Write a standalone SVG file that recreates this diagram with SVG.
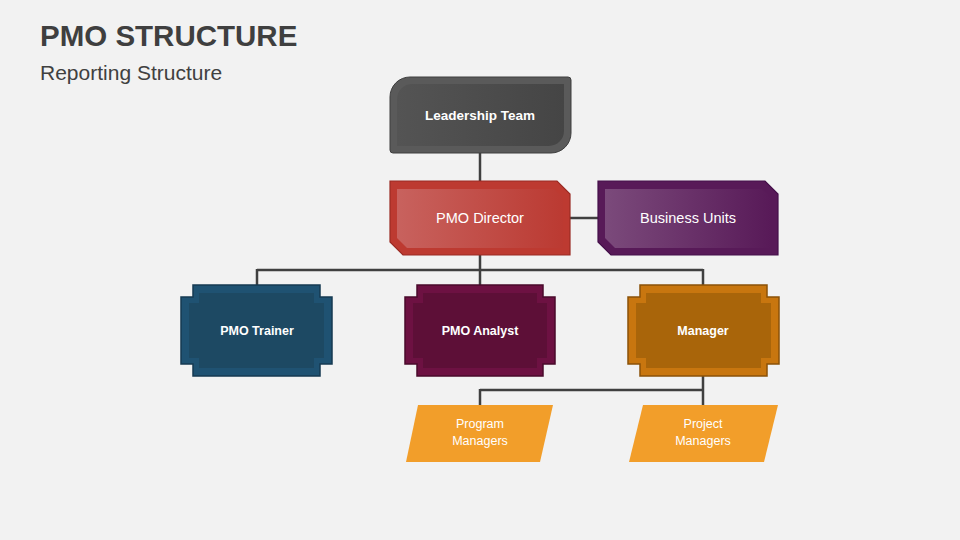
<svg xmlns="http://www.w3.org/2000/svg" width="960" height="540" viewBox="0 0 960 540">
  <defs>
    <linearGradient id="gLead" x1="0" y1="0" x2="1" y2="0">
      <stop offset="0" stop-color="#545454"/>
      <stop offset="1" stop-color="#454545"/>
    </linearGradient>
    <linearGradient id="gDir" x1="0" y1="0" x2="1" y2="0">
      <stop offset="0" stop-color="#c8625e"/>
      <stop offset="1" stop-color="#bb3a32"/>
    </linearGradient>
    <linearGradient id="gBU" x1="0" y1="0" x2="1" y2="0">
      <stop offset="0" stop-color="#7b4a7b"/>
      <stop offset="1" stop-color="#581a58"/>
    </linearGradient>
    <style>
      .conn { stroke:#404040; stroke-width:2.5; fill:none; }
      .lbl { font-family:"Liberation Sans", Arial, sans-serif; fill:#ffffff; text-anchor:middle; }
      .b { font-weight:bold; }
    </style>
  </defs>
  <rect x="0" y="0" width="960" height="540" fill="#f2f2f2"/>

  <g id="title">
    <text x="40" y="46" font-family="'Liberation Sans', Arial, sans-serif" font-weight="bold" font-size="29.5" fill="#3f3f3f">PMO STRUCTURE</text>
    <text x="40" y="80" font-family="'Liberation Sans', Arial, sans-serif" font-size="21" fill="#404040">Reporting Structure</text>
  </g>

  <g id="connectors">
    <path class="conn" d="M480,153 V181"/>
    <path class="conn" d="M570,218 H598"/>
    <path class="conn" d="M480,255 V270 M257,270 H703 M257,269 V285 M480,270 V285 M703,269 V285"/>
    <path class="conn" d="M703,376 V390 M480,390 H703 M480,389 V405 M703,390 V405"/>
  </g>

  <g id="leadership">
    <path d="M410,77 H568 Q571,77 571,80 V133 A20,20 0 0 1 551,153 H393 Q390,153 390,150 V97 A20,20 0 0 1 410,77 Z" fill="#5a5a5a" stroke="#3e3e3e" stroke-width="1"/>
    <path d="M412,84 H564 V131 A15,15 0 0 1 549,146 H397 V99 A15,15 0 0 1 412,84 Z" fill="url(#gLead)"/>
    <text class="lbl b" x="480" y="120" font-size="13.5">Leadership Team</text>
  </g>

  <g id="pmo-director">
    <polygon points="390,181 557,181 570,194 570,255 403,255 390,242" fill="#bd3a31" stroke="#9a2b24" stroke-width="1.2"/>
    <polygon points="397,189 554,189 563,198 563,248 407,248 397,238" fill="url(#gDir)"/>
    <text class="lbl" x="480" y="223" font-size="14.5">PMO Director</text>
  </g>

  <g id="business-units">
    <polygon points="598,181 765,181 778,194 778,255 611,255 598,242" fill="#581a58" stroke="#44104a" stroke-width="1.2"/>
    <polygon points="605,189 762,189 771,198 771,248 615,248 605,238" fill="url(#gBU)"/>
    <text class="lbl" x="688" y="223" font-size="14.5">Business Units</text>
  </g>

  <g id="pmo-trainer">
    <path d="M193,285 H320 V297 H332 V364 H320 V376 H193 V364 H181 V297 H193 Z" fill="#1f5272" stroke="#163a52" stroke-width="1.5"/>
    <path d="M199,293 H314 V303 H324 V358 H314 V368 H199 V358 H189 V303 H199 Z" fill="#1d4963"/>
    <text class="lbl b" x="257" y="334.5" font-size="12.5">PMO Trainer</text>
  </g>

  <g id="pmo-analyst">
    <path d="M417,285 H543 V297 H555 V364 H543 V376 H417 V364 H405 V297 H417 Z" fill="#6d1142" stroke="#4a0a2b" stroke-width="1.5"/>
    <path d="M423,293 H537 V303 H547 V358 H537 V368 H423 V358 H413 V303 H423 Z" fill="#5d0f37"/>
    <text class="lbl b" x="480" y="334.5" font-size="12.5">PMO Analyst</text>
  </g>

  <g id="manager">
    <path d="M640,285 H767 V297 H779 V364 H767 V376 H640 V364 H628 V297 H640 Z" fill="#c8760f" stroke="#8a5208" stroke-width="1.5"/>
    <path d="M646,293 H761 V303 H771 V358 H761 V368 H646 V358 H636 V303 H646 Z" fill="#a9650a"/>
    <text class="lbl b" x="703" y="334.5" font-size="12.5">Manager</text>
  </g>

  <g id="program-managers">
    <polygon points="418,405 553,405 540,462 406,462" fill="#f29e2a"/>
    <text class="lbl" x="480" y="428" font-size="12.5">Program</text>
    <text class="lbl" x="480" y="445" font-size="12.5">Managers</text>
  </g>

  <g id="project-managers">
    <polygon points="643,405 778,405 764,462 629,462" fill="#f29e2a"/>
    <text class="lbl" x="703" y="428" font-size="12.5">Project</text>
    <text class="lbl" x="703" y="445" font-size="12.5">Managers</text>
  </g>
</svg>
